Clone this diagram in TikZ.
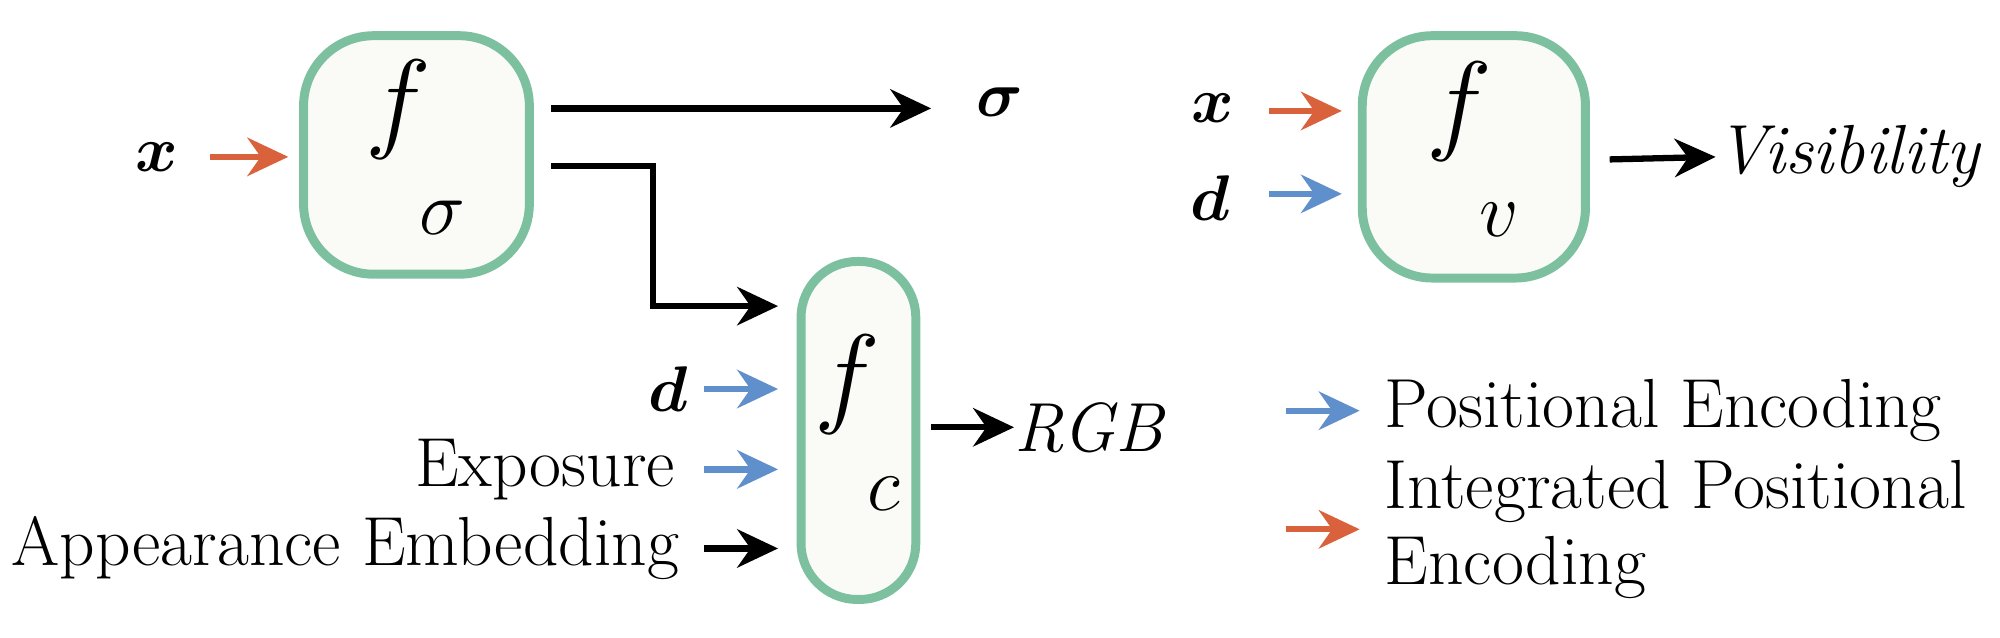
\documentclass[tikz,border=0pt]{standalone}
\usepackage{amsmath,bm}
\usetikzlibrary{arrows.meta}
\newcommand{\lowsub}[2]{$#1_{\raisebox{-1.6ex}{$\scriptstyle #2$}}$}
\begin{document}
\begin{tikzpicture}[x=0.1mm,y=-0.1mm,
  box/.style={draw=boxg,line width=2pt,fill=boxf,rounded corners=5.5mm},
  arr/.style={line width=1.4pt,-{Stealth[length=3.2mm,width=3mm]}},
  ar/.style={arr,draw=black},
  ao/.style={arr,draw=orng},
  ab/.style={arr,draw=blu},
  lbl/.style={font=\fontsize{15.5}{18}\selectfont,inner sep=0pt},
  big/.style={font=\fontsize{26}{28}\selectfont,inner sep=0pt}]
\definecolor{boxg}{HTML}{7CC0A0}
\definecolor{boxf}{HTML}{FAFBF7}
\definecolor{orng}{HTML}{D9623C}
\definecolor{blu}{HTML}{6090CC}
\useasboundingbox (0,0) rectangle (1568,500);
% boxes
\node[box,minimum width=17.7mm,minimum height=18.7mm] (fs) at (326.5,121.5) {};
\node[big] at ([yshift=0.6mm]fs) {\lowsub{f}{\sigma}};
\node[box,minimum width=9mm,minimum height=26.5mm,rounded corners=4.4mm] (fc) at (673,337.5) {};
\node[big] at ([yshift=0.6mm]fc) {\lowsub{f}{c}};
\node[box,minimum width=17.5mm,minimum height=19mm] (fv) at (1155.5,123) {};
\node[big] at ([yshift=0.6mm]fv) {\lowsub{f}{v}};
% f_sigma
\node[lbl,anchor=east] (x1) at (140,123) {$\bm{x}$};
\coordinate (x1e) at (226,123);
\draw[ao] (165,123) -- (x1e);
\coordinate (s0) at (432,85);
\node[lbl,anchor=west] (sig) at (765,80) {$\bm{\sigma}$};
\draw[ar] (s0) -- (730,85);
\coordinate (c0) at (432,130);
\coordinate (c1) at (610,240);
\draw[ar] (c0) -- (512,130) -- (512,240) -- (c1);
% f_c inputs
\node[lbl,anchor=east] (d1) at (540,305) {$\bm{d}$};
\draw[ab] (552,305) -- (610,305);
\node[lbl,anchor=east] (ex) at (530,368) {Exposure};
\draw[ab] (552,368) -- (610,368);
\node[lbl,anchor=east] (ae) at (533,430) {Appearance Embedding};
\draw[ar] (552,430) -- (610,430);
\node[lbl,anchor=west] (rgb) at (795,335) {\textit{RGB}};
\draw[ar] (730,335) -- (rgb.west);
% f_v
\node[lbl,anchor=east] (x2) at (968,85) {$\bm{x}$};
\draw[ao] (995,87) -- (1052,87);
\node[lbl,anchor=east] (d2) at (965,155) {$\bm{d}$};
\draw[ab] (995,152) -- (1052,152);
\node[lbl,anchor=west] (vis) at (1345,123) {\textit{Visibility}};
\draw[ar] (1262,125) -- (vis.west);
% legend
\draw[ab] (1008,322) -- (1066,322);
\node[lbl,anchor=west] (pe) at (1085,322) {Positional Encoding};
\draw[ao] (1008,415) -- (1066,415);
\node[lbl,anchor=west,align=left] (ipe) at (1085,415) {Integrated Positional\\[-1pt]Encoding};
\end{tikzpicture}
\end{document}
